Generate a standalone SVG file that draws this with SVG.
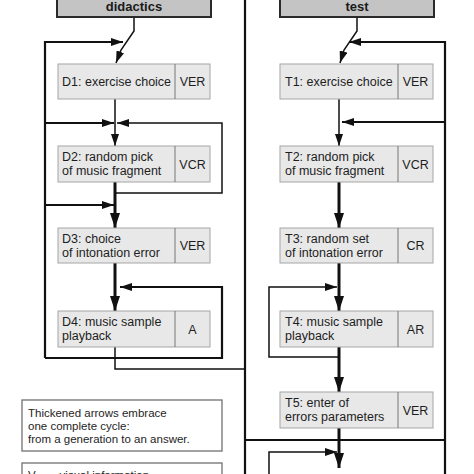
<svg xmlns="http://www.w3.org/2000/svg" width="474" height="474" viewBox="0 0 474 474">
<defs>
<style>
.hdr{fill:#c4c4c4;stroke:#2a2a2a;stroke-width:2}
.hdt{font-family:"Liberation Sans",Arial,sans-serif;font-size:13px;font-weight:bold;fill:#1a1a1a;text-anchor:middle}
.box{fill:#e8e8e8;stroke:#a6a6a6;stroke-width:1}
.div{stroke:#777;stroke-width:1}
.t{font-family:"Liberation Sans",Arial,sans-serif;font-size:12.5px;fill:#1e1e1e}
.c{text-anchor:middle}
.lg{fill:#fff;stroke:#707070;stroke-width:1.3}
.lt{font-family:"Liberation Sans",Arial,sans-serif;font-size:11.5px;fill:#1e1e1e}
.thin{fill:none;stroke:#111;stroke-width:1.5}
.med{fill:none;stroke:#111;stroke-width:2.2}
.thick{fill:none;stroke:#111;stroke-width:3}
</style>
<marker id="aS" markerUnits="userSpaceOnUse" markerWidth="12" markerHeight="8" refX="12" refY="4" orient="auto"><path d="M0,0 L12,4 L0,8 z" fill="#111"/></marker>
<marker id="aL" markerUnits="userSpaceOnUse" markerWidth="15" markerHeight="10" refX="15" refY="5" orient="auto"><path d="M0,0 L15,5 L0,10 z" fill="#111"/></marker>
</defs>
<rect width="474" height="474" fill="#fff"/>

<g id="connectors">
<path class="med" d="M245,0 V474"/>
<path class="med" d="M246,440 H445"/>
<path class="thin" d="M134,17 V31 L121,50 L116,63" marker-end="url(#aS)"/>
<path class="med" d="M45,358 V42 H123" marker-end="url(#aS)"/>
<path class="med" d="M45,123 H114" marker-end="url(#aS)"/>
<path class="med" d="M45,205 H114" marker-end="url(#aS)"/>
<path class="med" d="M45,358 H222 V287 H120" marker-end="url(#aS)"/>
<path class="thin" d="M115,99 V146" marker-end="url(#aS)"/>
<path class="thin" d="M115,193 H222 V123 H117" marker-end="url(#aS)"/>
<path class="thick" d="M115,182 V228" marker-end="url(#aL)"/>
<path class="thick" d="M115,263 V311" marker-end="url(#aL)"/>
<path class="thin" d="M115,347 V369 H245"/>
<path class="thin" d="M357,17 V31 L344,50 L340,63" marker-end="url(#aS)"/>
<path class="med" d="M445,474 V42 H349" marker-end="url(#aS)"/>
<path class="med" d="M445,122 H342" marker-end="url(#aS)"/>
<path class="thin" d="M339,99 V146" marker-end="url(#aS)"/>
<path class="thick" d="M339,182 V228" marker-end="url(#aL)"/>
<path class="thick" d="M339,263 V311" marker-end="url(#aL)"/>
<path class="thin" d="M339,357 H269 V287 H337" marker-end="url(#aS)"/>
<path class="thick" d="M339,347 V392" marker-end="url(#aL)"/>
<path class="thick" d="M339,428 V468" marker-end="url(#aL)"/>
<path class="thin" d="M269,474 V452 H337" marker-end="url(#aS)"/>
</g>

<g id="hdr-didactics"><rect class="hdr" x="57" y="-20" width="154" height="37"/><text class="hdt" x="134" y="11">didactics</text></g>
<g id="hdr-test"><rect class="hdr" x="280" y="-20" width="154" height="37"/><text class="hdt" x="357" y="11">test</text></g>

<g id="D1"><rect class="box" x="58" y="64" width="152" height="35"/><line class="div" x1="175" y1="64" x2="175" y2="99"/><text class="t" x="62" y="86">D1: exercise choice</text><text class="t c" x="192.5" y="86">VER</text></g>
<g id="D2"><rect class="box" x="58" y="146" width="152" height="36"/><line class="div" x1="175" y1="146" x2="175" y2="182"/><text class="t" x="62" y="160.5">D2: random pick</text><text class="t" x="62" y="174.5">of music fragment</text><text class="t c" x="192.5" y="168.5">VCR</text></g>
<g id="D3"><rect class="box" x="58" y="228" width="152" height="35"/><line class="div" x1="175" y1="228" x2="175" y2="263"/><text class="t" x="62" y="242.5">D3: choice</text><text class="t" x="62" y="256.5">of intonation error</text><text class="t c" x="192.5" y="250">VER</text></g>
<g id="D4"><rect class="box" x="58" y="311" width="152" height="36"/><line class="div" x1="175" y1="311" x2="175" y2="347"/><text class="t" x="62" y="325.5">D4: music sample</text><text class="t" x="62" y="339.5">playback</text><text class="t c" x="192.5" y="333.5">A</text></g>

<g id="T1"><rect class="box" x="280" y="64" width="153" height="35"/><line class="div" x1="398" y1="64" x2="398" y2="99"/><text class="t" x="285" y="86">T1: exercise choice</text><text class="t c" x="415.5" y="86">VER</text></g>
<g id="T2"><rect class="box" x="280" y="146" width="153" height="36"/><line class="div" x1="398" y1="146" x2="398" y2="182"/><text class="t" x="285" y="160.5">T2: random pick</text><text class="t" x="285" y="174.5">of music fragment</text><text class="t c" x="415.5" y="168.5">VCR</text></g>
<g id="T3"><rect class="box" x="280" y="228" width="153" height="35"/><line class="div" x1="398" y1="228" x2="398" y2="263"/><text class="t" x="285" y="242.5">T3: random set</text><text class="t" x="285" y="256.5">of intonation error</text><text class="t c" x="415.5" y="250">CR</text></g>
<g id="T4"><rect class="box" x="280" y="311" width="153" height="36"/><line class="div" x1="398" y1="311" x2="398" y2="347"/><text class="t" x="285" y="325.5">T4: music sample</text><text class="t" x="285" y="339.5">playback</text><text class="t c" x="415.5" y="333.5">AR</text></g>
<g id="T5"><rect class="box" x="280" y="392" width="153" height="36"/><line class="div" x1="398" y1="392" x2="398" y2="428"/><text class="t" x="285" y="406.5">T5: enter of</text><text class="t" x="285" y="420.5">errors parameters</text><text class="t c" x="415.5" y="414.5">VER</text></g>

<g id="legend1"><rect class="lg" x="22" y="400" width="200" height="51"/><text class="lt" x="28" y="417">Thickened arrows embrace</text><text class="lt" x="28" y="430">one complete cycle:</text><text class="lt" x="28" y="443">from a generation to an answer.</text></g>
<g id="legend2"><rect class="lg" x="22" y="463" width="200" height="30"/><text class="lt" x="28" y="479">V</text><text class="lt" x="50" y="479">– visual information</text></g>
</svg>
